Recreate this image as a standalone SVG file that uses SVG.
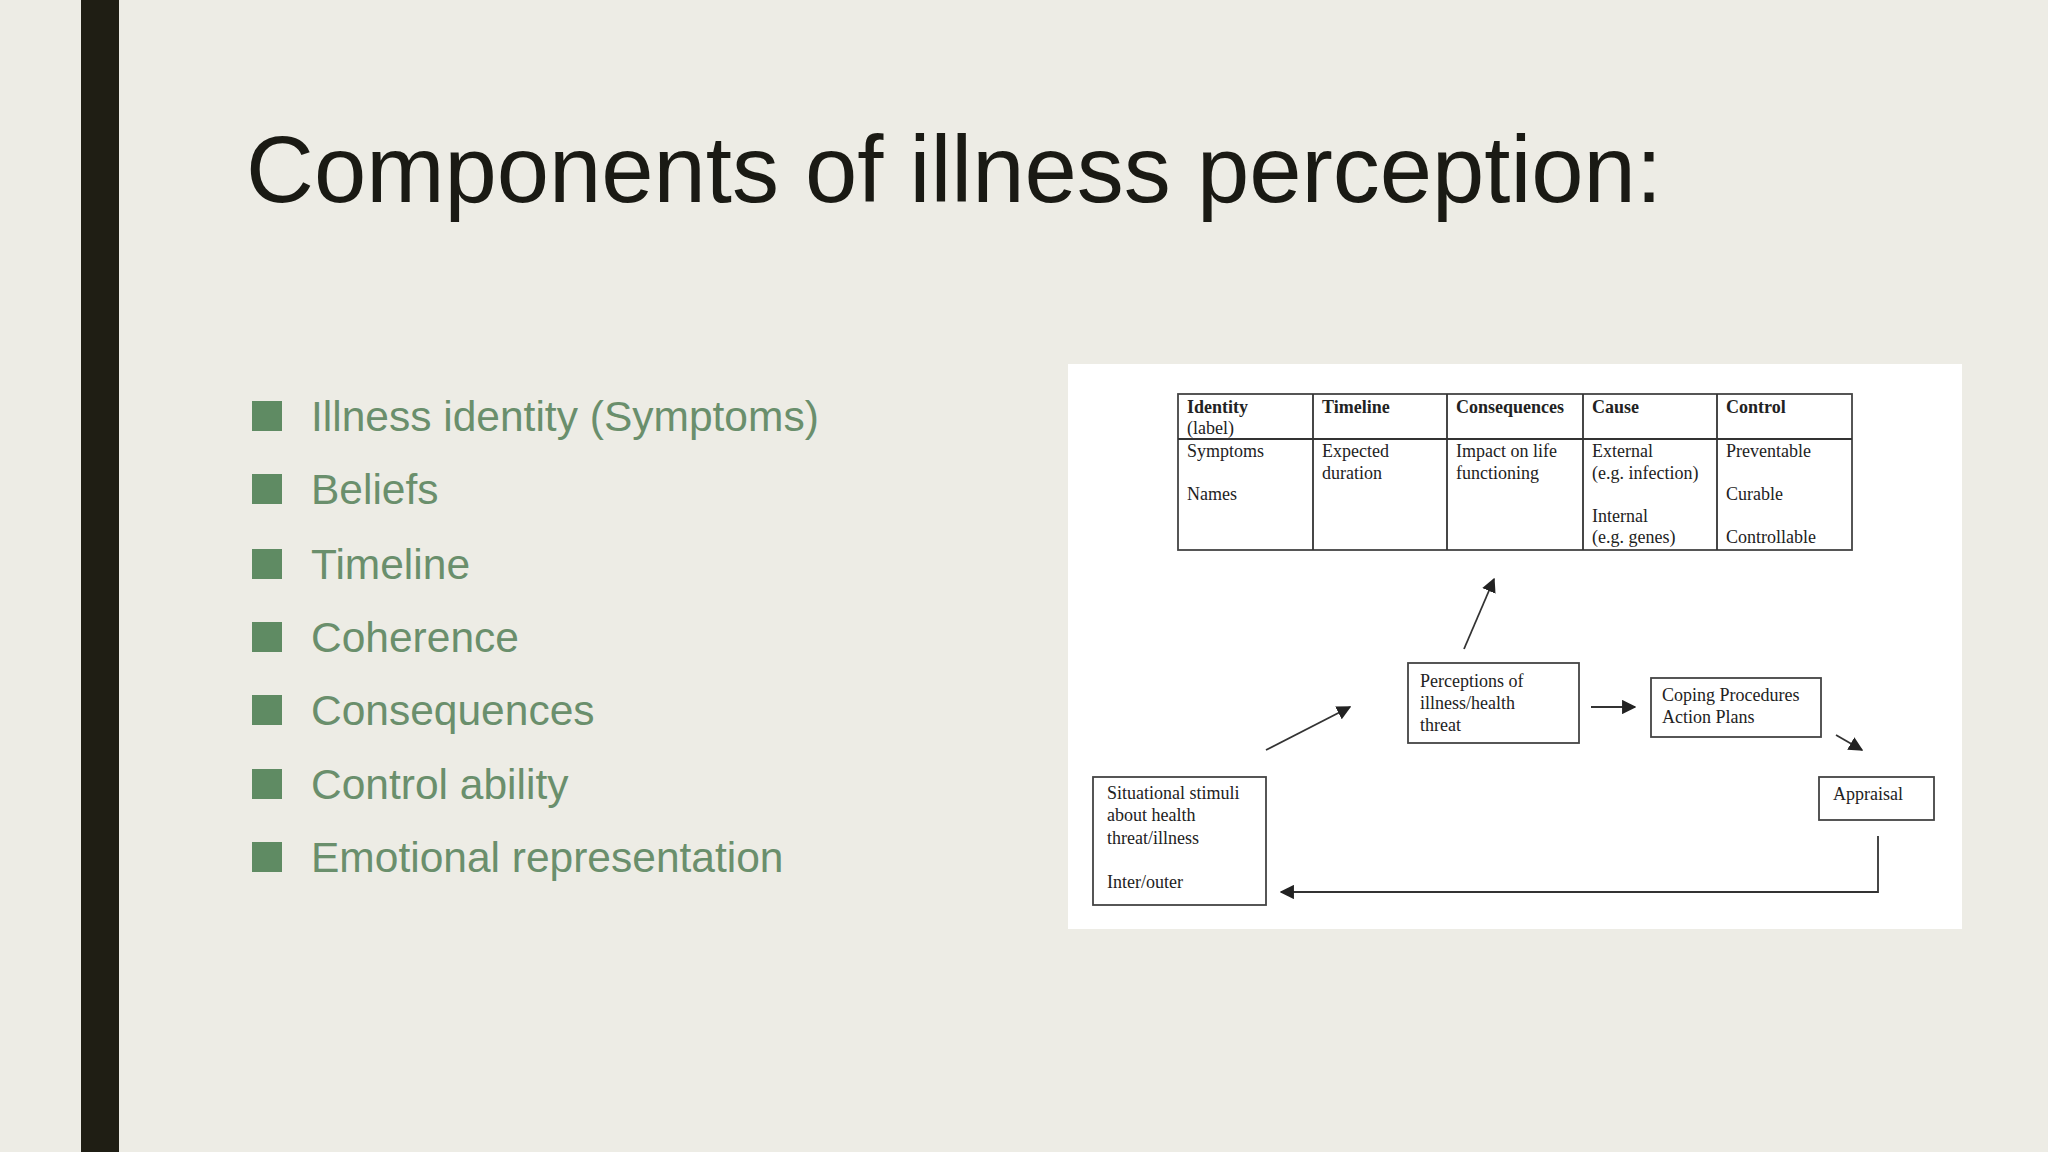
<svg xmlns="http://www.w3.org/2000/svg" width="2048" height="1152" viewBox="0 0 2048 1152">
<style>
.b{font-family:"Liberation Sans",Arial,sans-serif;font-size:42.5px;fill:#6a8f6c}
.t{font-family:"Liberation Serif","Times New Roman",serif;font-size:18px;fill:#222}
.h{font-weight:bold}
.bx{fill:#fff;stroke:#444;stroke-width:1.8}
.ln{stroke:#333;stroke-width:1.8;fill:none}
.sq{fill:#5f8b63}
</style>
<defs><marker id="a" viewBox="0 0 10 10" refX="9" refY="5" markerWidth="8" markerHeight="8" orient="auto"><path d="M0,0L10,5L0,10z" fill="#222"/></marker></defs>
<rect width="2048" height="1152" fill="#edece5"/>
<rect x="81" y="0" width="38" height="1152" fill="#1f1e14"/>
<text x="246" y="202" font-family="Liberation Sans,Arial,sans-serif" font-size="94" fill="#1a1a14">Components of illness perception:</text>
<g id="bullets">
<rect class="sq" x="252" y="401" width="30" height="30"/><text class="b" x="311" y="431">Illness identity (Symptoms)</text>
<rect class="sq" x="252" y="474" width="30" height="30"/><text class="b" x="311" y="504">Beliefs</text>
<rect class="sq" x="252" y="549" width="30" height="30"/><text class="b" x="311" y="579">Timeline</text>
<rect class="sq" x="252" y="622" width="30" height="30"/><text class="b" x="311" y="652">Coherence</text>
<rect class="sq" x="252" y="695" width="30" height="30"/><text class="b" x="311" y="725">Consequences</text>
<rect class="sq" x="252" y="769" width="30" height="30"/><text class="b" x="311" y="799">Control ability</text>
<rect class="sq" x="252" y="842" width="30" height="30"/><text class="b" x="311" y="872">Emotional representation</text>
</g>
<rect x="1068" y="364" width="894" height="565" fill="#fff"/>
<g id="table">
<rect class="bx" x="1178" y="394" width="674" height="156"/>
<path class="ln" d="M1178,439H1852M1313,394V550M1447,394V550M1583,394V550M1717,394V550"/>
<text class="t h" x="1187" y="413">Identity</text><text class="t" x="1187" y="434">(label)</text>
<text class="t h" x="1322" y="413">Timeline</text>
<text class="t h" x="1456" y="413">Consequences</text>
<text class="t h" x="1592" y="413">Cause</text>
<text class="t h" x="1726" y="413">Control</text>
<text class="t" x="1187" y="457">Symptoms</text><text class="t" x="1187" y="500">Names</text>
<text class="t" x="1322" y="457">Expected</text><text class="t" x="1322" y="479">duration</text>
<text class="t" x="1456" y="457">Impact on life</text><text class="t" x="1456" y="479">functioning</text>
<text class="t" x="1592" y="457">External</text><text class="t" x="1592" y="479">(e.g. infection)</text>
<text class="t" x="1592" y="522">Internal</text><text class="t" x="1592" y="543">(e.g. genes)</text>
<text class="t" x="1726" y="457">Preventable</text><text class="t" x="1726" y="500">Curable</text><text class="t" x="1726" y="543">Controllable</text>
</g>
<g id="perceptions"><rect class="bx" x="1408" y="663" width="171" height="80"/>
<text class="t" x="1420" y="687">Perceptions of</text><text class="t" x="1420" y="709">illness/health</text><text class="t" x="1420" y="731">threat</text></g>
<g id="coping"><rect class="bx" x="1651" y="678" width="170" height="59"/>
<text class="t" x="1662" y="701">Coping Procedures</text><text class="t" x="1662" y="723">Action Plans</text></g>
<g id="appraisal"><rect class="bx" x="1819" y="777" width="115" height="43"/>
<text class="t" x="1833" y="800">Appraisal</text></g>
<g id="stimuli"><rect class="bx" x="1093" y="777" width="173" height="128"/>
<text class="t" x="1107" y="799">Situational stimuli</text><text class="t" x="1107" y="821">about health</text><text class="t" x="1107" y="844">threat/illness</text><text class="t" x="1107" y="888">Inter/outer</text></g>
<g id="connectors">
<path class="ln" marker-end="url(#a)" d="M1464,649L1494,579"/>
<path class="ln" marker-end="url(#a)" d="M1591,707L1635,707"/>
<path class="ln" marker-end="url(#a)" d="M1836,735L1862,750"/>
<path class="ln" marker-end="url(#a)" d="M1878,836V892H1281"/>
<path class="ln" marker-end="url(#a)" d="M1266,750L1350,707"/>
</g>
</svg>
